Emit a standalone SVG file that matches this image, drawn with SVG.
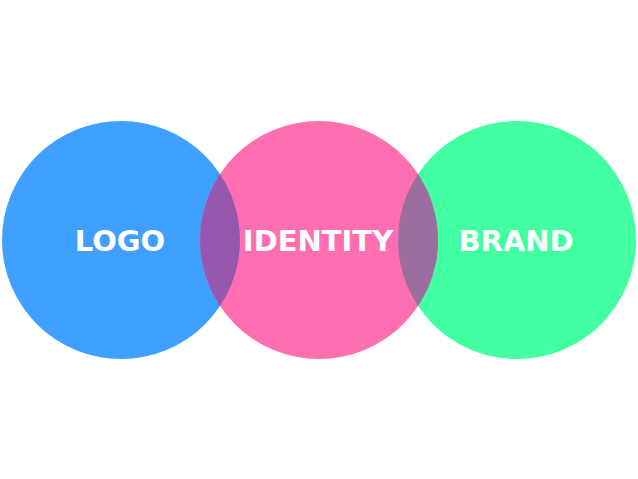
<svg xmlns="http://www.w3.org/2000/svg" width="638" height="479" viewBox="0 0 638 479">
<style>
.t{font-family:"DejaVu Sans",Verdana,sans-serif;font-weight:bold;font-size:29px;fill:#fff;text-anchor:middle}
</style>
<defs>
<clipPath id="cl"><circle cx="121" cy="240" r="119"/></clipPath>
<clipPath id="cr"><circle cx="517" cy="240" r="119"/></clipPath>
</defs>
<rect width="638" height="479" fill="#fff"/>
<g id="logo"><circle cx="121" cy="240" r="119" fill="#3fa0ff"/></g>
<g id="brand"><circle cx="517" cy="240" r="119" fill="#42ffa2"/></g>
<g id="identity"><circle cx="319" cy="240" r="119" fill="#ff6eb0"/>
<circle cx="319" cy="240" r="119" fill="#9657b0" clip-path="url(#cl)"/>
<circle cx="319" cy="240" r="119" fill="#9b6e9f" clip-path="url(#cr)"/>
</g>
<g id="connectors"/>
<text class="t" x="120" y="251">LOGO</text>
<text class="t" x="318" y="251">IDENTITY</text>
<text class="t" x="516" y="251">BRAND</text>
</svg>
